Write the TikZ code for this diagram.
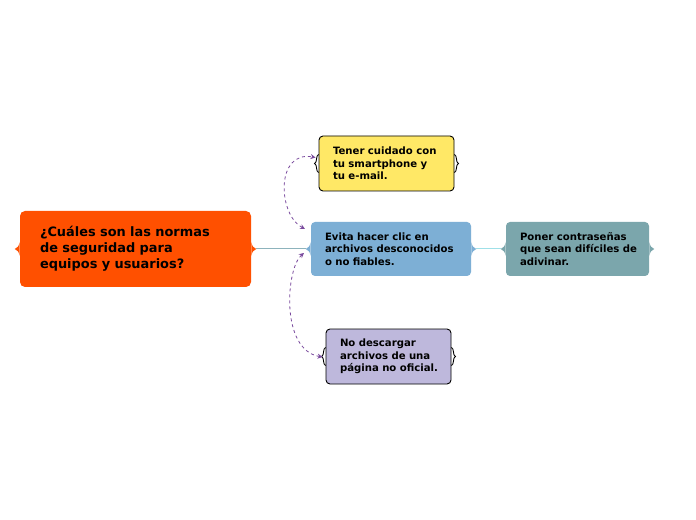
\documentclass[tikz,border=0pt]{standalone}
\usepackage{fontspec}
\setmainfont{DejaVu Sans}
\usetikzlibrary{arrows.meta,calc}
\definecolor{cMain}{HTML}{FF5000}
\definecolor{cBlue}{HTML}{7DAFD5}
\definecolor{cYel}{HTML}{FFE866}
\definecolor{cTeal}{HTML}{7BA6AC}
\definecolor{cPur}{HTML}{BEB8DC}
\definecolor{cRel}{HTML}{7A4A9E}
\definecolor{cLine1}{HTML}{8DB3BC}
\definecolor{cLine2}{HTML}{9FE0E8}
\tikzset{
  topicbox/.style={rounded corners=3pt, align=left, inner ysep=0pt, inner xsep=10.5pt,
     font=\bfseries\fontsize{7.6pt}{9.4pt}\selectfont, text=black},
  mainbox/.style={rounded corners=3.75pt, align=left, inner ysep=0pt, inner xsep=15pt,
     font=\bfseries\fontsize{9.7pt}{12pt}\selectfont, text=black, fill=cMain},
  rel/.style={cRel, dash pattern=on 2.25pt off 2.25pt, line width=0.6pt,
     {Stealth[length=3.75pt,width=3.75pt]}-{Stealth[length=3.75pt,width=3.75pt]}},
}
\newcommand{\bracefill}[3]{% point, direction (+1 right / -1 left), color
  \fill[#3] ($#1+(0,-7)$) .. controls ($#1+(#2*1,-3)$) and ($#1+(#2*2,-1)$) .. ($#1+(#2*5,0)$)
     .. controls ($#1+(#2*2,1)$) and ($#1+(#2*1,3)$) .. ($#1+(0,7)$) -- cycle;}
\newcommand{\bracedraw}[2]{%
  \draw[black, line width=0.675pt] ($#1+(0,-9)$) .. controls ($#1+(#2*3,-8)$) and ($#1+(#2*1,-1)$) .. ($#1+(#2*4,0)$)
     .. controls ($#1+(#2*1,1)$) and ($#1+(#2*3,8)$) .. ($#1+(0,9)$);}
\begin{document}
\begin{tikzpicture}[x=0.75pt,y=-0.75pt]
\useasboundingbox[fill=white] (0,0) rectangle (696,520);

\node[mainbox, text width=143.25pt, minimum height=57pt] (main) at (135.5,249)
  {\mbox{¿Cuáles son las normas}\\\mbox{de seguridad para}\\\mbox{equipos y usuarios?}};
\node[topicbox, fill=cBlue, text width=99pt, minimum height=40.5pt] (blue) at (391,249)
  {\mbox{Evita hacer clic en}\\\mbox{archivos desconocidos}\\\mbox{o no fiables.}};
\node[topicbox, fill=cYel, draw=black, line width=0.675pt, text width=80.25pt, minimum height=41.25pt] (yel) at (386.5,163.5)
  {\mbox{Tener cuidado con}\\\mbox{tu smartphone y}\\\mbox{tu e-mail.}};
\node[topicbox, fill=cTeal, text width=86.25pt, minimum height=40.5pt] (teal) at (577.5,249)
  {\mbox{Poner contraseñas}\\\mbox{que sean difíciles de}\\\mbox{adivinar.}};
\node[topicbox, fill=cPur, draw=black, line width=0.675pt, text width=72.75pt, minimum height=41.25pt] (pur) at (388.5,356.5)
  {\mbox{No descargar}\\\mbox{archivos de una}\\\mbox{página no oficial.}};

% braces / notches
\bracefill{(main.west)}{-1}{cMain}
\bracefill{(main.east)}{1}{cMain}
\bracefill{(blue.west)}{-1}{cBlue}
\bracefill{(blue.east)}{1}{cBlue}
\bracefill{(teal.west)}{-1}{cTeal}
\bracefill{(teal.east)}{1}{cTeal}
\bracedraw{(yel.west)}{-1}
\bracedraw{(yel.east)}{1}
\bracedraw{(pur.west)}{-1}
\bracedraw{(pur.east)}{1}

\coordinate (mainR) at ($(main.east)+(5,0)$);
\coordinate (blueL) at ($(blue.west)+(-5,0)$);
\coordinate (blueR) at ($(blue.east)+(5,0)$);
\coordinate (tealL) at ($(teal.west)+(-5,0)$);
\draw[cLine1, line width=0.75pt] (mainR) -- (blueL);
\draw[cLine2, line width=0.75pt] (blueR) -- (tealL);

\coordinate (yelL) at ($(yel.west)+(-3,-6)$);
\coordinate (pureL) at ($(pur.west)+(-3,0.5)$);
\coordinate (b1) at (305,229);
\coordinate (b2) at (304,253);
\draw[rel] (b1) .. controls (278,215) and (275,150) .. (yelL);
\draw[rel] (b2) .. controls (286,268) and (280,350) .. (pureL);
\end{tikzpicture}
\end{document}
